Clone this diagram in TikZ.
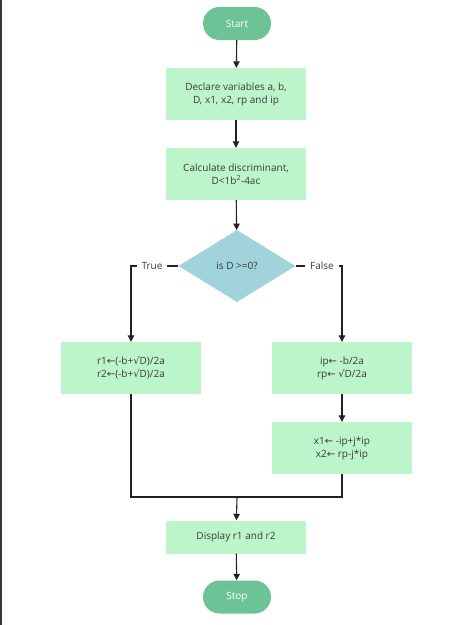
\documentclass[tikz,border=0pt]{standalone}
\usepackage{fontspec}
\usepackage{xcolor}
\usepackage{tikz}
\usetikzlibrary{shapes.geometric, arrows.meta, positioning}
\setmainfont{Open Sans}
\newfontfamily\symfont{DejaVu Sans}
\newcommand{\larr}{{\symfont\char"2190}}
\newcommand{\sqr}{{\symfont\char"221A}}

\definecolor{boxgreen}{HTML}{BDF5CB}
\definecolor{termgreen}{HTML}{6EC396}
\definecolor{decblue}{HTML}{A0D4DA}
\definecolor{txtgray}{HTML}{3A3A3A}
\definecolor{linegray}{HTML}{222222}

\tikzset{
  terminal/.style={rectangle, rounded corners=16.5pt, fill=termgreen, text=white,
    minimum width=68pt, minimum height=33pt, font=\fontsize{10}{12}\selectfont},
  process/.style={rectangle, fill=boxgreen, text=txtgray, align=center,
    minimum width=140pt, minimum height=52pt, font=\fontsize{10}{13}\selectfont},
  decision/.style={diamond, fill=decblue, text=txtgray, inner sep=0pt,
    minimum width=117pt, minimum height=72pt, font=\fontsize{10}{12}\selectfont},
  flow/.style={draw=linegray, line width=1.1pt},
  arrow/.style={flow, -{Triangle[length=6.5pt,width=6.5pt]}},
  branch/.style={fill=white, text=txtgray, inner xsep=5pt, inner ysep=2pt, font=\fontsize{10}{12}\selectfont}
}

\begin{document}
\begin{tikzpicture}[x=1pt, y=-1pt]
        \useasboundingbox (0,0) rectangle (474,625);
        \fill[linegray!90] (0,0) rectangle (2,625); % left edge of the page
        \node[terminal] (start) at (237,23.5) {Start};
        \node[process] (declare) at (236,94) {Declare variables a, b,\\D, x1, x2, rp and ip};
        \node[process] (disc) at (236,174) {Calculate discriminant,\\D<1b\textsuperscript{2}-4ac};
        \node[decision] (check) at (237,266) {is D >=0?};
        \node[process] (roots) at (131,368) {r1\larr(-b+\sqr D)/2a\\r2\larr(-b+\sqr D)/2a};
        \node[process] (parts) at (342,368) {ip\larr{} -b/2a\\rp\larr{} \sqr D/2a};
        \node[process] (xs) at (342,448) {x1\larr{} -ip+j*ip\\x2\larr{} rp-j*ip};
        \node[process, minimum height=33pt] (show) at (236,537) {Display r1 and r2};
        \node[terminal] (stop) at (237,597) {Stop};
        \coordinate (merge) at (237,497);

        \draw[arrow] (start) -- (declare);
        \draw[arrow] (declare) -- (disc);
        \draw[arrow] (disc) -- (check);
        \draw[arrow] (check.west) -- (roots.north |- check.west) -- (roots.north);
        \draw[arrow] (check.east) -- (parts.north |- check.east) -- (parts.north);
        \node[branch] (yes) at (152,266) {True};
        \node[branch] (no) at (322,266) {False};
        \draw[arrow] (parts) -- (xs);
        \draw[flow] (roots.south) -- (roots.south |- merge) -- (xs.south |- merge) -- (xs.south);
        \draw[arrow] (merge) -- (show);
        \draw[arrow] (show) -- (stop);
    \end{tikzpicture}
\end{document}
